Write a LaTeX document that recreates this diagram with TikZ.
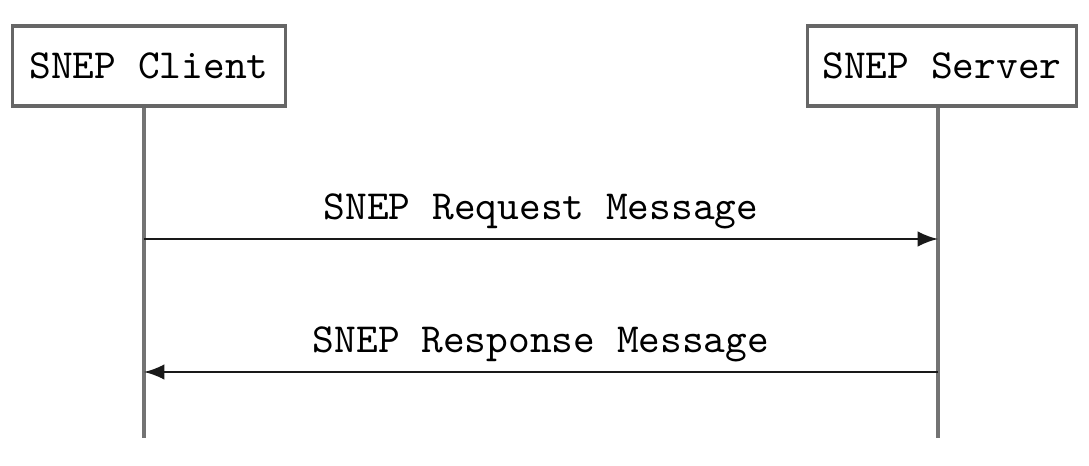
\documentclass[tikz,border=0pt]{standalone}
\usetikzlibrary{positioning}
\usetikzlibrary{arrows,calc}
\begin{document}
\begin{tikzpicture}[%
    x=0.2416pt, y=-0.2416pt,
    basic/.style={draw=black!60,line width=0.8pt,font=\ttfamily,text badly centered},
    entity/.style={basic,rectangle,minimum width=66pt,minimum height=19.3pt,inner xsep=0pt},
    lifeline/.style={draw=black!55,line width=0.8pt},
    message/.style={draw=black!90,line width=0.7pt,-latex},
    msgtext/.style={font=\ttfamily,inner sep=2pt}
]
        \useasboundingbox (0,0) rectangle (1089,466);
        \node[entity] (client) at (149,66) {SNEP Client};
        \node[entity,minimum width=65pt] (server) at (942,66) {SNEP Server};

        \coordinate (clientend) at (144,438);
        \coordinate (serverend) at (938,438);
        \path[lifeline] (client.south -| clientend) -- (clientend);
        \path[lifeline] (server.south -| serverend) -- (serverend);

        \coordinate (reqfrom) at (144,239);
        \coordinate (reqto) at (938,239);
        \coordinate (resfrom) at (938,372);
        \coordinate (resto) at (144,372);

        \path[message] (reqfrom) -- node[above,midway,msgtext]{SNEP Request Message} (reqto);
        \path[message] (resfrom) -- node[above,midway,msgtext]{SNEP Response Message} (resto);
\end{tikzpicture}
\end{document}
